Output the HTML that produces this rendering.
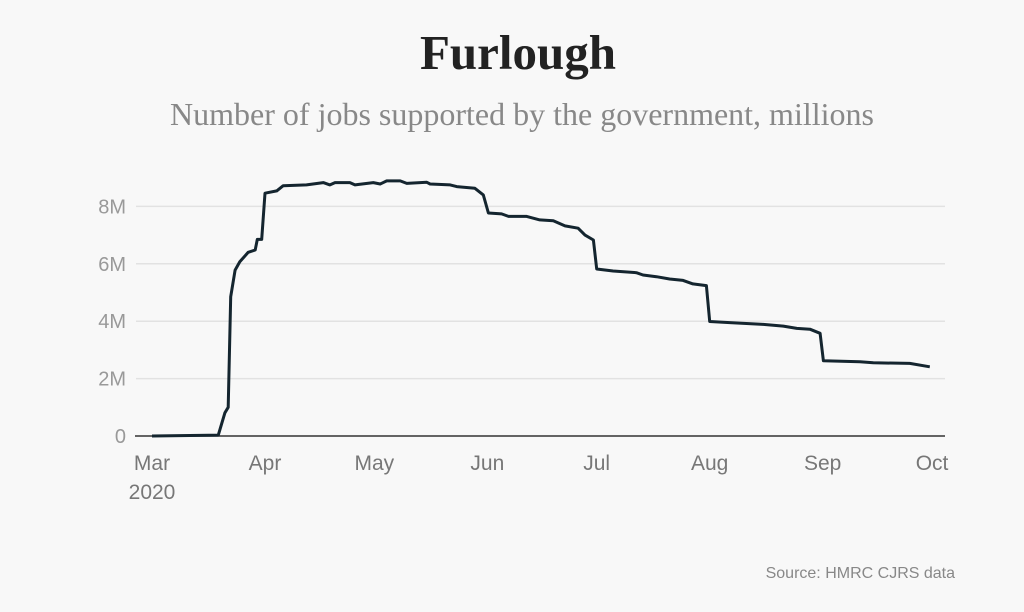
<!DOCTYPE html>
<html><head><meta charset="utf-8"><style>
html,body{margin:0;padding:0;background:#f8f8f8;}
svg{display:block;}
</style></head><body>
<svg width="1024" height="612" viewBox="0 0 1024 612">
<rect width="1024" height="612" fill="#f8f8f8"/>
<text x="518" y="69" text-anchor="middle" font-family="Liberation Serif, serif" font-weight="bold" font-size="49" fill="#222">Furlough</text>
<text x="522" y="125" text-anchor="middle" font-family="Liberation Serif, serif" font-size="32" fill="#888">Number of jobs supported by the government, millions</text>
<g id="grid"></g>
<g id="yticks"></g>
<g id="xticks"></g>
<path id="line" fill="none" stroke="#14252f" stroke-width="3" stroke-linejoin="round"/>
<text x="955" y="578" text-anchor="end" font-family="Liberation Sans, sans-serif" font-size="16" fill="#888">Source: HMRC CJRS data</text>
</svg>
<script>
const days = [0,18.2,20.0,20.9,21.6,22.8,24.1,26.4,28.3,28.9,30.1,31.0,34.2,36.0,42.4,47.0,48.8,50.2,54.3,55.7,60.7,62.6,64.4,68.1,69.9,75.4,76.3,81.8,83.6,88.6,90.9,92.3,95.9,97.8,102.8,106.4,110.1,113.3,116.9,118.8,121.1,122.0,126.5,132.9,134.7,138.4,142.0,145.7,148.4,152.1,153.0,158.5,167.7,173.2,176.9,180.5,183.3,184.2,194.2,197.9,207.9,213.4];
const jobs = [0,0.03,0.81,1.0,4.85,5.78,6.07,6.40,6.48,6.85,6.85,8.46,8.54,8.72,8.75,8.83,8.75,8.83,8.83,8.75,8.83,8.78,8.89,8.89,8.80,8.84,8.78,8.75,8.69,8.63,8.40,7.77,7.74,7.65,7.65,7.53,7.50,7.32,7.24,7.00,6.83,5.82,5.75,5.69,5.61,5.55,5.47,5.42,5.30,5.24,3.99,3.95,3.89,3.83,3.75,3.72,3.58,2.62,2.59,2.55,2.53,2.41];
const yTicks = [0,2,4,6,8];
const yLabels = ["0","2M","4M","6M","8M"];
const monthDays = [0,31,61,92,122,153,184,214];
const monthLabels = ["Mar","Apr","May","Jun","Jul","Aug","Sep","Oct"];

const X0=152, KX=3.645, Y0=436, KY=28.7;
const xs = d => X0 + d*KX;
const ys = v => Y0 - v*KY;
const NS="http://www.w3.org/2000/svg";
const grid=document.getElementById('grid'), yt=document.getElementById('yticks'), xt=document.getElementById('xticks');
yTicks.forEach((v,i)=>{
  const y=ys(v);
  if(v>0){
    const l=document.createElementNS(NS,'line');
    l.setAttribute('x1',136);l.setAttribute('x2',945);l.setAttribute('y1',y);l.setAttribute('y2',y);
    l.setAttribute('stroke','#e2e2e2');l.setAttribute('stroke-width','1.5');
    
    
    grid.appendChild(l);
  }
  const t=document.createElementNS(NS,'text');
  t.setAttribute('x',126);t.setAttribute('y',y+7);t.setAttribute('text-anchor','end');
  t.setAttribute('font-family','Liberation Sans, sans-serif');t.setAttribute('font-size','20');t.setAttribute('fill','#999');
  t.textContent=yLabels[i];
  
  
  yt.appendChild(t);
});
const base=document.createElementNS(NS,'line');
base.setAttribute('x1',135);base.setAttribute('x2',945);base.setAttribute('y1',Y0);base.setAttribute('y2',Y0);
base.setAttribute('stroke','#333');base.setAttribute('stroke-width','1.5');


xt.appendChild(base);
monthDays.forEach((d,i)=>{
  const t=document.createElementNS(NS,'text');
  t.setAttribute('x',xs(d));t.setAttribute('y',470);t.setAttribute('text-anchor','middle');
  t.setAttribute('font-family','Liberation Sans, sans-serif');t.setAttribute('font-size','21');t.setAttribute('fill','#777');
  t.textContent=monthLabels[i];
  
  
  xt.appendChild(t);
});
const yr=document.createElementNS(NS,'text');
yr.setAttribute('x',xs(0));yr.setAttribute('y',499);yr.setAttribute('text-anchor','middle');
yr.setAttribute('font-family','Liberation Sans, sans-serif');yr.setAttribute('font-size','21');yr.setAttribute('fill','#777');
yr.textContent='2020';


xt.appendChild(yr);
document.getElementById('line').setAttribute('d', days.map((d,i)=>(i?'L':'M')+xs(d).toFixed(1)+','+ys(jobs[i]).toFixed(1)).join(''));
</script>
</body></html>
